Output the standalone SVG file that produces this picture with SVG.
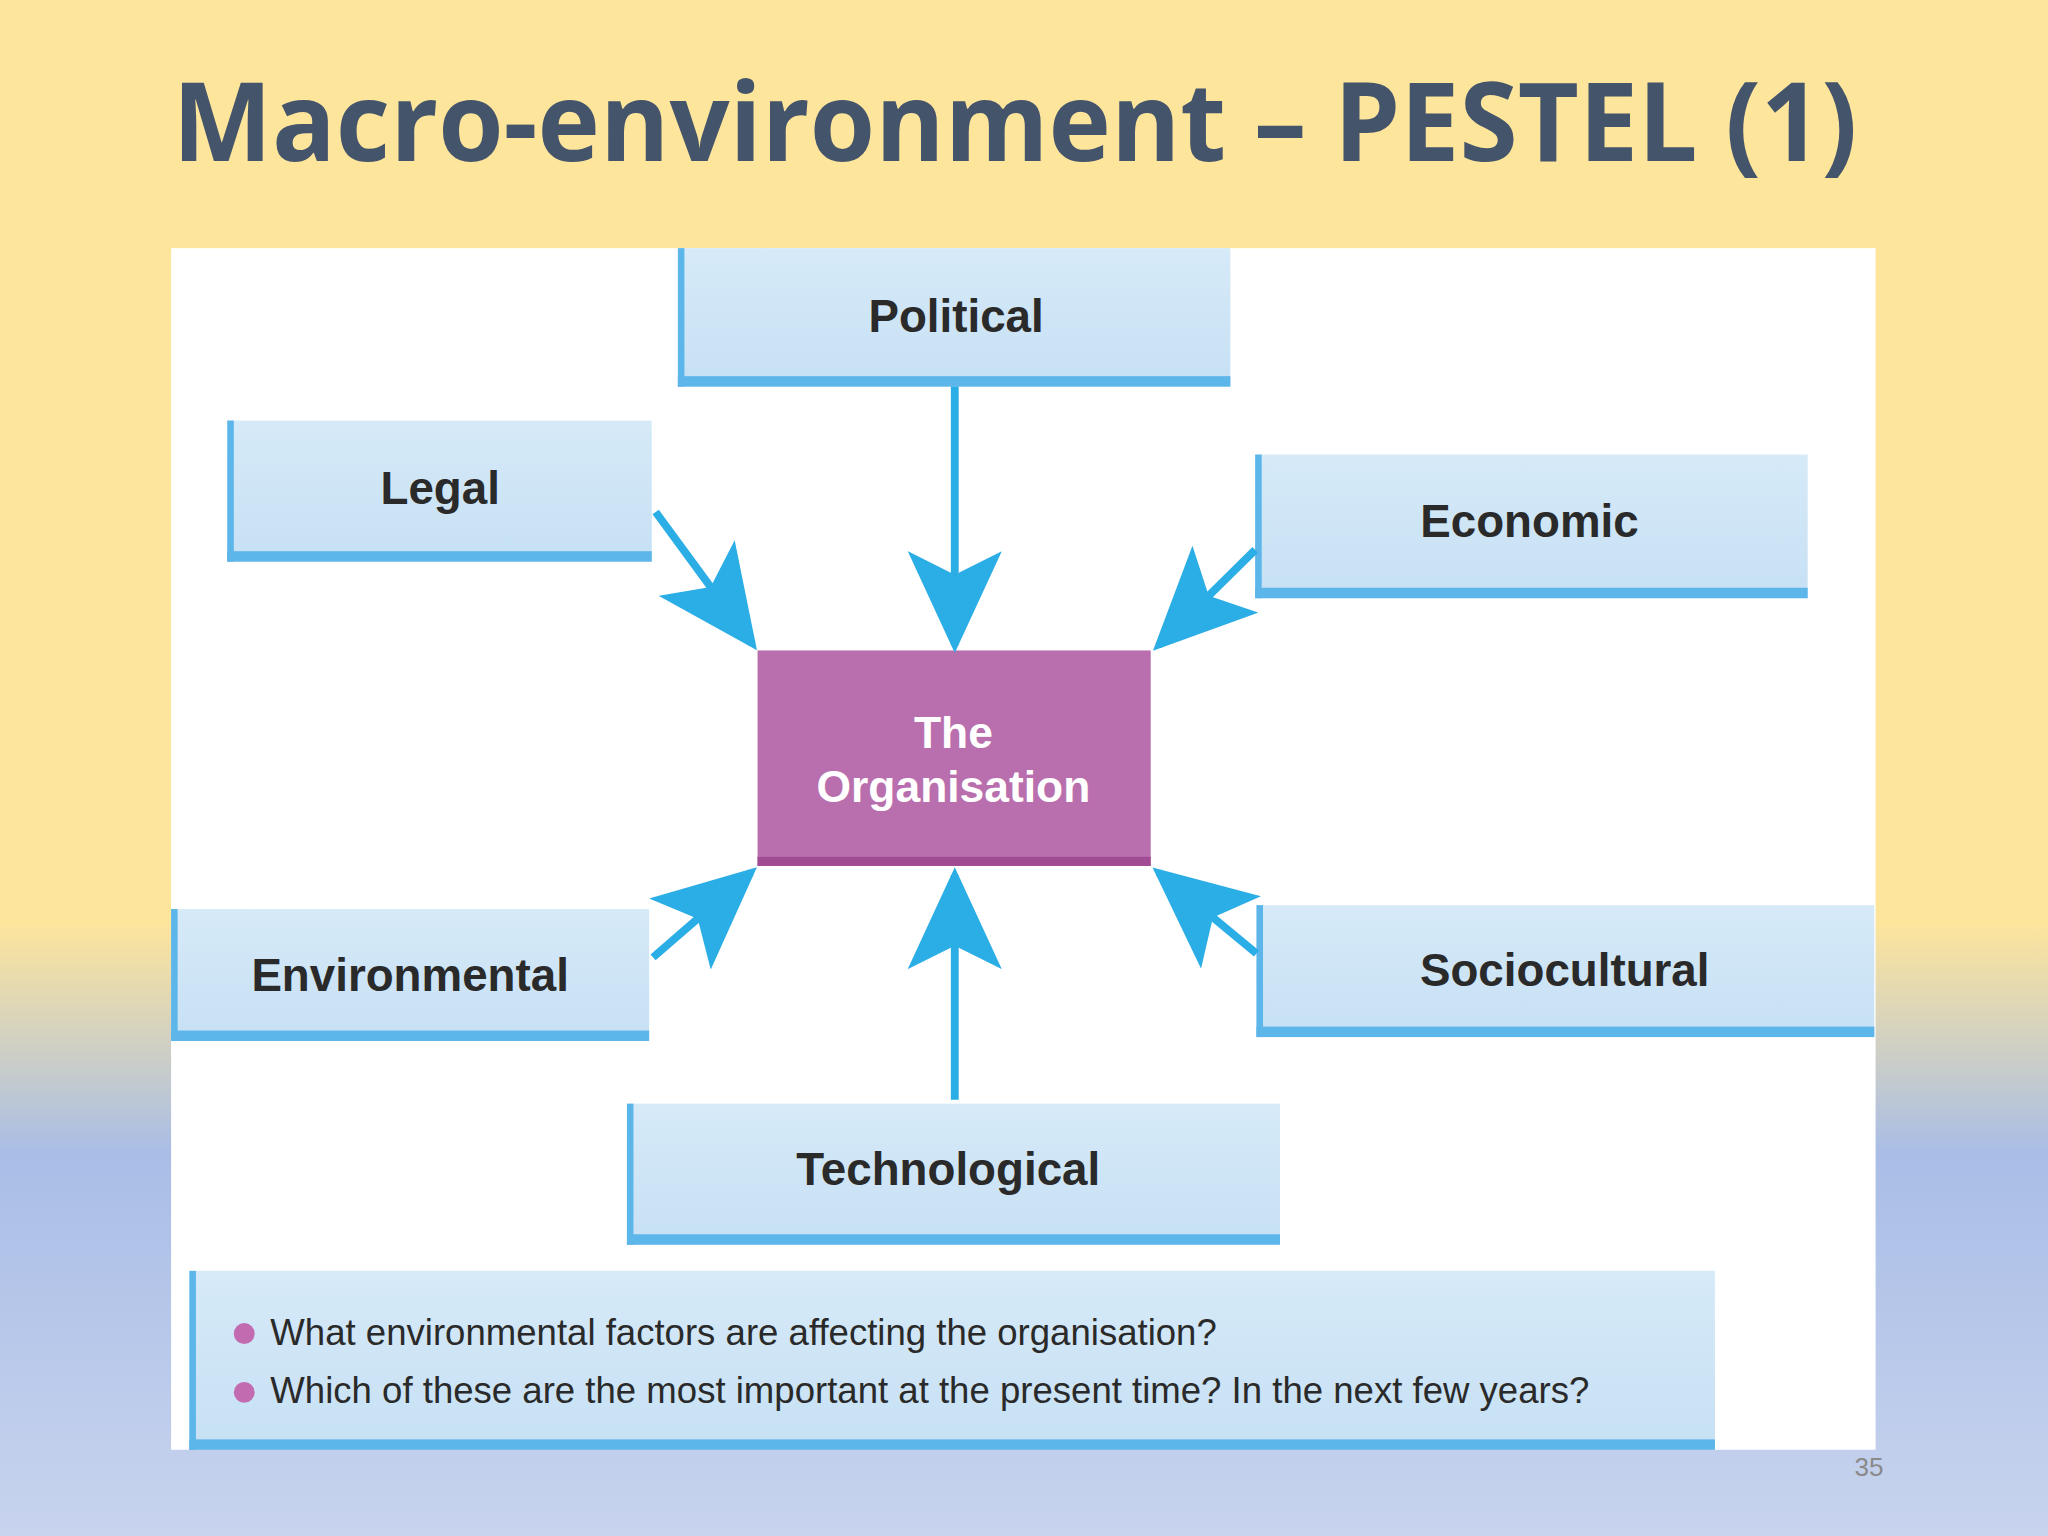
<svg xmlns="http://www.w3.org/2000/svg" width="2048" height="1536" viewBox="0 0 2048 1536">
<defs>
<linearGradient id="bg" x1="0" y1="0" x2="0" y2="1">
<stop offset="0" stop-color="#FDE59C"/>
<stop offset="0.6" stop-color="#FDE59C"/>
<stop offset="0.75" stop-color="#A9BDE6"/>
<stop offset="1" stop-color="#C8D4EE"/>
</linearGradient>
<linearGradient id="box" x1="0" y1="0" x2="0" y2="1">
<stop offset="0" stop-color="#D6EAF8"/>
<stop offset="1" stop-color="#C6E0F4"/>
</linearGradient>
<marker id="ah" markerWidth="14" markerHeight="12" refX="12" refY="6" orient="auto" markerUnits="strokeWidth">
<path d="M0,0 L13,6 L0,12 L3,6 Z" fill="#2BADE6"/>
</marker>
<style>
.bx{fill:url(#box)}
.edge{fill:#5DB6E9}
.lb{font-family:"Liberation Sans",Arial,sans-serif;font-weight:bold;font-size:35px;fill:#2a2a2a;text-anchor:middle}
.cn{stroke:#2BADE6;stroke-width:6;fill:none;marker-end:url(#ah)}
</style>
</defs>
<rect width="2048" height="1536" fill="url(#bg)"/>
<g transform="scale(1.30612)">
<text x="777" y="123" font-family="'Open Sans',sans-serif" font-weight="bold" font-size="84" fill="#44546A" text-anchor="middle" textLength="1290" lengthAdjust="spacingAndGlyphs">Macro-environment – PESTEL (1)</text>
<rect x="131" y="190" width="1305" height="920" fill="#FFFFFF"/>
<g id="political"><rect class="bx" x="519" y="190" width="423" height="106"/><rect class="edge" x="519" y="288" width="423" height="8"/><rect class="edge" x="519" y="190" width="5" height="106"/><text class="lb" x="732" y="254">Political</text></g>
<g id="legal"><rect class="bx" x="174" y="322" width="325" height="108"/><rect class="edge" x="174" y="422" width="325" height="8"/><rect class="edge" x="174" y="322" width="5" height="108"/><text class="lb" x="337" y="386">Legal</text></g>
<g id="economic"><rect class="bx" x="961" y="348" width="423" height="110"/><rect class="edge" x="961" y="450" width="423" height="8"/><rect class="edge" x="961" y="348" width="5" height="110"/><text class="lb" x="1171" y="411">Economic</text></g>
<g id="environmental"><rect class="bx" x="131" y="696" width="366" height="101"/><rect class="edge" x="131" y="789" width="366" height="8"/><rect class="edge" x="131" y="696" width="5" height="101"/><text class="lb" x="314" y="759">Environmental</text></g>
<g id="sociocultural"><rect class="bx" x="962" y="693" width="473" height="101"/><rect class="edge" x="962" y="786" width="473" height="8"/><rect class="edge" x="962" y="693" width="5" height="101"/><text class="lb" x="1198" y="755">Sociocultural</text></g>
<g id="technological"><rect class="bx" x="480" y="845" width="500" height="108"/><rect class="edge" x="480" y="945" width="500" height="8"/><rect class="edge" x="480" y="845" width="5" height="108"/><text class="lb" x="726" y="907">Technological</text></g>
<g id="organisation"><rect x="580" y="498" width="301" height="165" fill="#B96FAD"/><rect x="580" y="656" width="301" height="7" fill="#A24B95"/><text x="730" y="573" font-family="'Liberation Sans',Arial,sans-serif" font-weight="bold" font-size="34" fill="#FFFFFF" text-anchor="middle">The</text><text x="730" y="614" font-family="'Liberation Sans',Arial,sans-serif" font-weight="bold" font-size="34" fill="#FFFFFF" text-anchor="middle">Organisation</text></g>
<g id="questions"><rect class="bx" x="145" y="973" width="1168" height="137"/><rect class="edge" x="145" y="1102" width="1168" height="8"/><rect class="edge" x="145" y="973" width="5" height="137"/>
<circle cx="187" cy="1021" r="8" fill="#C36BB0"/><circle cx="187" cy="1066" r="8" fill="#C36BB0"/>
<text x="207" y="1030" font-family="'Liberation Sans',Arial,sans-serif" font-size="28" fill="#2a2a2a">What environmental factors are affecting the organisation?</text>
<text x="207" y="1074" font-family="'Liberation Sans',Arial,sans-serif" font-size="28" fill="#2a2a2a">Which of these are the most important at the present time? In the next few years?</text></g>
<g id="connectors">
<line class="cn" x1="731" y1="296" x2="731" y2="494"/>
<line class="cn" x1="502" y1="392" x2="576" y2="493"/>
<line class="cn" x1="961" y1="421" x2="887" y2="494"/>
<line class="cn" x1="500" y1="733" x2="575" y2="668"/>
<line class="cn" x1="962" y1="730" x2="887" y2="668"/>
<line class="cn" x1="731" y1="842" x2="731" y2="670"/>
</g>
<text x="1431" y="1130" font-family="'Liberation Sans',Arial,sans-serif" font-size="20" fill="#8a8a8a" text-anchor="middle">35</text>
</g>
</svg>
